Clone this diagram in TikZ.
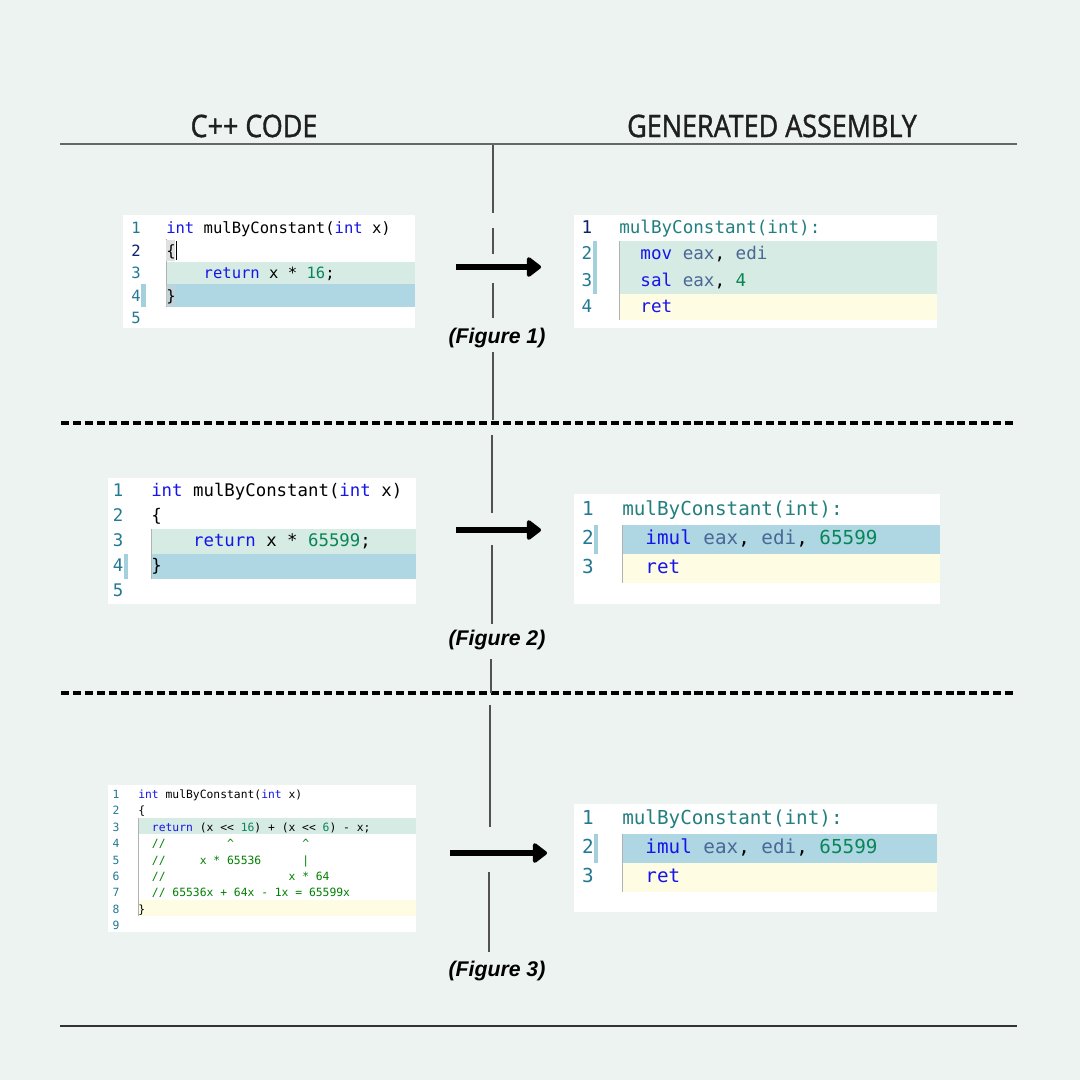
\documentclass[tikz,border=0pt]{standalone}
\usepackage{fontspec}
\setmonofont{DejaVu Sans Mono}
\newfontfamily\headfont{Open Sans}[FakeStretch=0.87, FakeBold=1.2]
\newfontfamily\figfont{Liberation Sans}
\usetikzlibrary{arrows.meta}
\definecolor{bgmint}{HTML}{ECF3F0}
\definecolor{kwblue}{HTML}{1515E8}
\definecolor{numgreen}{HTML}{098658}
\definecolor{lnteal}{HTML}{237893}
\definecolor{lnact}{HTML}{0B216F}
\definecolor{asmlbl}{HTML}{237F7F}
\definecolor{regblue}{HTML}{4A6796}
\definecolor{cmtgreen}{HTML}{008000}
\definecolor{hlgreen}{HTML}{D6EBE4}
\definecolor{hlblue}{HTML}{AED7E3}
\definecolor{hlyellow}{HTML}{FFFCE4}
\definecolor{barblue}{HTML}{A4D0DC}
\newcommand\kwd[1]{\textcolor{kwblue}{#1}}
\newcommand\nmb[1]{\textcolor{numgreen}{#1}}
\newcommand\rgs[1]{\textcolor{regblue}{#1}}
\newcommand\cmnt[1]{\textcolor{cmtgreen}{#1}}
\newcommand\albl[1]{\textcolor{asmlbl}{#1}}
\begin{document}
\begin{tikzpicture}[x=0.025cm, y=-0.025cm,
    head/.style={font=\headfont\fontsize{22}{26}\selectfont, text=black!88, inner sep=0pt},
    fig/.style={font=\figfont\bfseries\itshape\fontsize{15.1}{18}\selectfont, inner sep=0pt},
    code/.style={anchor=mid west, inner sep=0pt, yshift=-1.8pt},
    lnum/.style={anchor=mid, inner sep=0pt, yshift=-1.8pt, text=lnteal},
    sep/.style={draw=black!68, line width=0.9pt},
    dashsep/.style={draw=black, line width=2.6pt, dash pattern=on 5.7pt off 2.8pt},
    arr/.style={line width=4pt, -{Triangle[length=11pt,width=16pt,round]}}]
% background
\fill[bgmint] (0,0) rectangle (1080,1080);
\draw[black!60, line width=1.4pt] (60,144) -- (1017,144);
\draw[black!80, line width=0.9pt] (60,1026) -- (1017,1026);
\draw[dashsep] (61,423) -- (1017,423);
\draw[dashsep] (61,693) -- (1017,693);
% headers
\node[head] (hcpp) at (254,126) {C++ CODE};
\node[head] (hasm) at (772,126) {GENERATED ASSEMBLY};
% broken middle line
\foreach \xa/\ya/\yb in {493/145/213, 493/228/254, 493/283/318, 493/352/420,
    492/435/513, 492/545/624, 491/659/693, 490/705/827, 489/872/952}
  \draw[sep] (\xa,\ya) -- (\xa,\yb);

% ---- figure 1, c++
\fill[white] (123,215) rectangle (415,328);
\fill[hlgreen] (166,261.75) rectangle (415,284.25);
\fill[hlblue] (166,284.25) rectangle (415,306.75);
\fill[barblue] (141,284.25) rectangle (146,306.75);
\draw[black!30, line width=0.4pt] (166,239.25) -- (166,306.75);
\fill[black!12] (166,240) rectangle (175,261);
\fill[black!18, opacity=0.5] (166,285) rectangle (175,306);
\draw[black, line width=0.6pt] (176,241) -- (176,260);
\begin{scope}[every node/.append style={font=\ttfamily\fontsize{11.05}{13}\selectfont}]
\foreach \n in {1,3,4,5}
  \node[lnum] (l1n\n) at (136,{228+22.5*(\n-1)}) {\n};
\node[lnum, text=lnact] (l1n2) at (136,250.5) {2};
\node[code] (l1c1) at (166,228) {\kwd{int} mulByConstant(\kwd{int} x)};
\node[code] (l1c2) at (166,250.5) {\{};
\node[code] (l1c3) at (166,273) {~~~~\kwd{return} x * \nmb{16};};
\node[code] (l1c4) at (166,295.5) {\}};
\end{scope}

% ---- figure 1, asm
\fill[white] (574,215) rectangle (937,328);
\fill[hlgreen] (619,241) rectangle (937,293.5);
\fill[hlyellow] (619,293.5) rectangle (937,320);
\fill[barblue] (593,241) rectangle (597,293.5);
\draw[black!30, line width=0.4pt] (619,241) -- (619,320);
\begin{scope}[every node/.append style={font=\ttfamily\fontsize{12.5}{15}\selectfont}]
\node[lnum, text=lnact] (r1n1) at (587,228) {1};
\foreach \n in {2,3,4}
  \node[lnum] (r1n\n) at (587,{228+26.3*(\n-1)}) {\n};
\node[code] (r1c1) at (619,228) {\albl{mulByConstant(int):}};
\node[code] (r1c2) at (619,254.3) {~~\kwd{mov} \rgs{eax}, \rgs{edi}};
\node[code] (r1c3) at (619,280.6) {~~\kwd{sal} \rgs{eax}, \nmb{4}};
\node[code] (r1c4) at (619,307) {~~\kwd{ret}};
\end{scope}
\coordinate (a1s) at (456,267);
\coordinate (a1e) at (541,267);
\draw[arr] (a1s) -- (a1e);
\node[fig] (f1) at (497,338) {(Figure 1)};

% ---- figure 2, c++
\fill[white] (108,478) rectangle (416,604);
\fill[hlgreen] (151,528.5) rectangle (416,553.5);
\fill[hlblue] (151,553.5) rectangle (416,578.5);
\fill[barblue] (124,553.5) rectangle (128,578.5);
\draw[black!30, line width=0.4pt] (151,528.5) -- (151,578.5);
\begin{scope}[every node/.append style={font=\ttfamily\fontsize{12.35}{15}\selectfont}]
\foreach \n in {1,...,5}
  \node[lnum] (l2n\n) at (118,{491+25*(\n-1)}) {\n};
\node[code] (l2c1) at (151,491) {\kwd{int} mulByConstant(\kwd{int} x)};
\node[code] (l2c2) at (151,516) {\{};
\node[code] (l2c3) at (151,541) {~~~~\kwd{return} x * \nmb{65599};};
\node[code] (l2c4) at (151,566) {\}};
\end{scope}

% ---- figure 2, asm
\fill[white] (574,494) rectangle (940,604);
\fill[hlblue] (622,524.5) rectangle (940,553.5);
\fill[hlyellow] (622,553.5) rectangle (940,582.5);
\fill[barblue] (594,524.5) rectangle (598,553.5);
\draw[black!30, line width=0.4pt] (622,524.5) -- (622,582.5);
\begin{scope}[every node/.append style={font=\ttfamily\fontsize{13.7}{16}\selectfont}]
\foreach \n in {1,2,3}
  \node[lnum] (r2n\n) at (588,{510+29*(\n-1)}) {\n};
\node[code] (r2c1) at (622,510) {\albl{mulByConstant(int):}};
\node[code] (r2c2) at (622,539) {~~\kwd{imul} \rgs{eax}, \rgs{edi}, \nmb{65599}};
\node[code] (r2c3) at (622,568) {~~\kwd{ret}};
\end{scope}
\coordinate (a2s) at (456,530);
\coordinate (a2e) at (541,530);
\draw[arr] (a2s) -- (a2e);
\node[fig] (f2) at (497,640) {(Figure 2)};

% ---- figure 3, c++
\fill[white] (108,785) rectangle (416,932);
\fill[hlgreen] (138,817.6) rectangle (416,834);
\fill[hlyellow] (138,899.6) rectangle (416,916);
\draw[black!30, line width=0.4pt] (138,817.6) -- (138,916);
\begin{scope}[every node/.append style={font=\ttfamily\fontsize{8.07}{10}\selectfont}]
\foreach \n in {1,...,9}
  \node[lnum] (l3n\n) at (116,{793+16.4*(\n-1)}) {\n};
\node[code] (l3c1) at (138,793) {\kwd{int} mulByConstant(\kwd{int} x)};
\node[code] (l3c2) at (138,809.4) {\{};
\node[code] (l3c3) at (138,825.8) {~~\kwd{return} (x << \nmb{16}) + (x << \nmb{6}) - x;};
\node[code] (l3c4) at (138,842.2) {\cmnt{~~//~~~~~~~~~\textasciicircum~~~~~~~~~~\textasciicircum}};
\node[code] (l3c5) at (138,858.6) {\cmnt{~~//~~~~~x~*~65536~~~~~~|}};
\node[code] (l3c6) at (138,875) {\cmnt{~~//~~~~~~~~~~~~~~~~~~x~*~64}};
\node[code] (l3c7) at (138,891.4) {\cmnt{~~// 65536x + 64x - 1x = 65599x}};
\node[code] (l3c8) at (138,907.8) {\}};
\end{scope}

% ---- figure 3, asm
\fill[white] (574,804) rectangle (937,912);
\fill[hlblue] (622,833.5) rectangle (937,862.5);
\fill[hlyellow] (622,862.5) rectangle (937,891.5);
\fill[barblue] (594,833.5) rectangle (598,862.5);
\draw[black!30, line width=0.4pt] (622,833.5) -- (622,891.5);
\begin{scope}[every node/.append style={font=\ttfamily\fontsize{13.7}{16}\selectfont}]
\foreach \n in {1,2,3}
  \node[lnum] (r3n\n) at (588,{819+29*(\n-1)}) {\n};
\node[code] (r3c1) at (622,819) {\albl{mulByConstant(int):}};
\node[code] (r3c2) at (622,848) {~~\kwd{imul} \rgs{eax}, \rgs{edi}, \nmb{65599}};
\node[code] (r3c3) at (622,877) {~~\kwd{ret}};
\end{scope}
\coordinate (a3s) at (450,853);
\coordinate (a3e) at (547,853);
\draw[arr] (a3s) -- (a3e);
\node[fig] (f3) at (497,971) {(Figure 3)};
\end{tikzpicture}
\end{document}
